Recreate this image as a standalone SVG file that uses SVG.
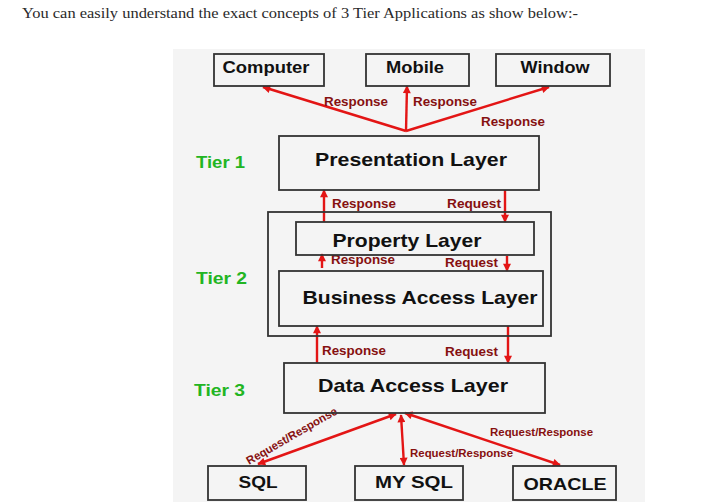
<svg xmlns="http://www.w3.org/2000/svg" width="708" height="502" viewBox="0 0 708 502">
<style>
.box{fill:none;stroke:#333;stroke-width:1.8}
.nt{font-family:"Liberation Sans",Arial,sans-serif;font-weight:bold;fill:#111;text-anchor:middle}
.tier{font-family:"Liberation Sans",Arial,sans-serif;font-weight:bold;fill:#22b522;font-size:16px}
.lbl{font-family:"Liberation Sans",Arial,sans-serif;font-weight:bold;fill:#861010;font-size:13px}
.sl{font-family:"Liberation Sans",Arial,sans-serif;font-weight:bold;fill:#861010;font-size:11.5px}
.ln{stroke:#e31515;stroke-width:2.4;fill:none}
</style>
<defs>
<marker id="ah" viewBox="0 0 10 10" refX="9" refY="5" markerWidth="9" markerHeight="8" markerUnits="userSpaceOnUse" orient="auto-start-reverse">
<path d="M0,0 L10,5 L0,10 z" fill="#e31515"/>
</marker>
</defs>
<rect width="708" height="502" fill="#ffffff"/>
<text x="22" y="18" font-family="'Liberation Serif','Times New Roman',serif" font-size="15" fill="#2a2a2a" textLength="556" lengthAdjust="spacingAndGlyphs">You can easily understand the exact concepts of 3 Tier Applications as show below:-</text>
<rect x="173" y="49" width="472" height="453" fill="#f4f4f4"/>

<g id="connectors">
<line class="ln" x1="406" y1="131" x2="263" y2="87" marker-end="url(#ah)"/>
<line class="ln" x1="406" y1="131" x2="407" y2="86" marker-end="url(#ah)"/>
<line class="ln" x1="406" y1="131" x2="549" y2="87" marker-end="url(#ah)"/>
<line class="ln" x1="324" y1="222" x2="324" y2="190" marker-end="url(#ah)"/>
<line class="ln" x1="505" y1="190" x2="505" y2="222" marker-end="url(#ah)"/>
<line class="ln" x1="322" y1="268" x2="322" y2="254" marker-end="url(#ah)"/>
<line class="ln" x1="507" y1="256" x2="507" y2="271" marker-end="url(#ah)"/>
<line class="ln" x1="317" y1="363" x2="317" y2="326" marker-end="url(#ah)"/>
<line class="ln" x1="508" y1="326" x2="508" y2="363" marker-end="url(#ah)"/>
<line class="ln" x1="396" y1="414" x2="258" y2="464" marker-start="url(#ah)" marker-end="url(#ah)"/>
<line class="ln" x1="401" y1="415" x2="404" y2="465" marker-start="url(#ah)" marker-end="url(#ah)"/>
<line class="ln" x1="405" y1="413" x2="560" y2="465" marker-start="url(#ah)" marker-end="url(#ah)"/>
<text class="lbl" x="324" y="106" textLength="64" lengthAdjust="spacingAndGlyphs">Response</text>
<text class="lbl" x="413" y="106" textLength="64" lengthAdjust="spacingAndGlyphs">Response</text>
<text class="lbl" x="481" y="126" textLength="64" lengthAdjust="spacingAndGlyphs">Response</text>
<text class="lbl" x="332" y="208" textLength="64" lengthAdjust="spacingAndGlyphs">Response</text>
<text class="lbl" x="447" y="208" textLength="54" lengthAdjust="spacingAndGlyphs">Request</text>
<text class="lbl" x="331" y="264" textLength="64" lengthAdjust="spacingAndGlyphs">Response</text>
<text class="lbl" x="445" y="267" textLength="53" lengthAdjust="spacingAndGlyphs">Request</text>
<text class="lbl" x="322" y="355" textLength="64" lengthAdjust="spacingAndGlyphs">Response</text>
<text class="lbl" x="445" y="356" textLength="53" lengthAdjust="spacingAndGlyphs">Request</text>
<text class="sl" x="0" y="0" textLength="103" lengthAdjust="spacingAndGlyphs" transform="translate(249,465) rotate(-30)">Request/Response</text>
<text class="sl" x="410" y="457" textLength="103" lengthAdjust="spacingAndGlyphs">Request/Response</text>
<text class="sl" x="490" y="436" textLength="103" lengthAdjust="spacingAndGlyphs">Request/Response</text>
</g>

<g id="computer"><rect class="box" x="214" y="54" width="110" height="32"/><text class="nt" x="266" y="73" font-size="16" textLength="87" lengthAdjust="spacingAndGlyphs">Computer</text></g>
<g id="mobile"><rect class="box" x="366" y="54" width="103" height="32"/><text class="nt" x="415" y="73" font-size="16" textLength="58" lengthAdjust="spacingAndGlyphs">Mobile</text></g>
<g id="window"><rect class="box" x="496" y="54" width="114" height="32"/><text class="nt" x="555" y="73" font-size="16" textLength="69" lengthAdjust="spacingAndGlyphs">Window</text></g>

<g id="tier1"><text class="tier" x="196" y="168" textLength="49" lengthAdjust="spacingAndGlyphs">Tier 1</text></g>
<g id="presentation"><rect class="box" x="279" y="136" width="260" height="54"/><text class="nt" x="411" y="166" font-size="18.5" textLength="192" lengthAdjust="spacingAndGlyphs">Presentation Layer</text></g>

<g id="tier2"><text class="tier" x="196" y="284" textLength="51" lengthAdjust="spacingAndGlyphs">Tier 2</text>
<rect class="box" x="268" y="212" width="283" height="124" stroke="#222"/></g>
<g id="property"><rect class="box" x="296" y="222" width="238" height="33"/><text class="nt" x="407" y="247" font-size="18.5" textLength="149" lengthAdjust="spacingAndGlyphs">Property Layer</text></g>
<g id="business"><rect class="box" x="279" y="271" width="264" height="55"/><text class="nt" x="420" y="304" font-size="18.5" textLength="235" lengthAdjust="spacingAndGlyphs">Business Access Layer</text></g>

<g id="tier3"><text class="tier" x="194" y="396" textLength="51" lengthAdjust="spacingAndGlyphs">Tier 3</text></g>
<g id="dataaccess"><rect class="box" x="284" y="363" width="261" height="50"/><text class="nt" x="413" y="392" font-size="18.5" textLength="190" lengthAdjust="spacingAndGlyphs">Data Access Layer</text></g>

<g id="sql"><rect class="box" x="208" y="466" width="98" height="34"/><text class="nt" x="258" y="488" font-size="17" textLength="39" lengthAdjust="spacingAndGlyphs">SQL</text></g>
<g id="mysql"><rect class="box" x="355" y="466" width="108" height="34"/><text class="nt" x="414" y="488" font-size="17" textLength="78" lengthAdjust="spacingAndGlyphs">MY SQL</text></g>
<g id="oracle"><rect class="box" x="513" y="466" width="103" height="34"/><text class="nt" x="565" y="490" font-size="17" textLength="83" lengthAdjust="spacingAndGlyphs">ORACLE</text></g>
</svg>
